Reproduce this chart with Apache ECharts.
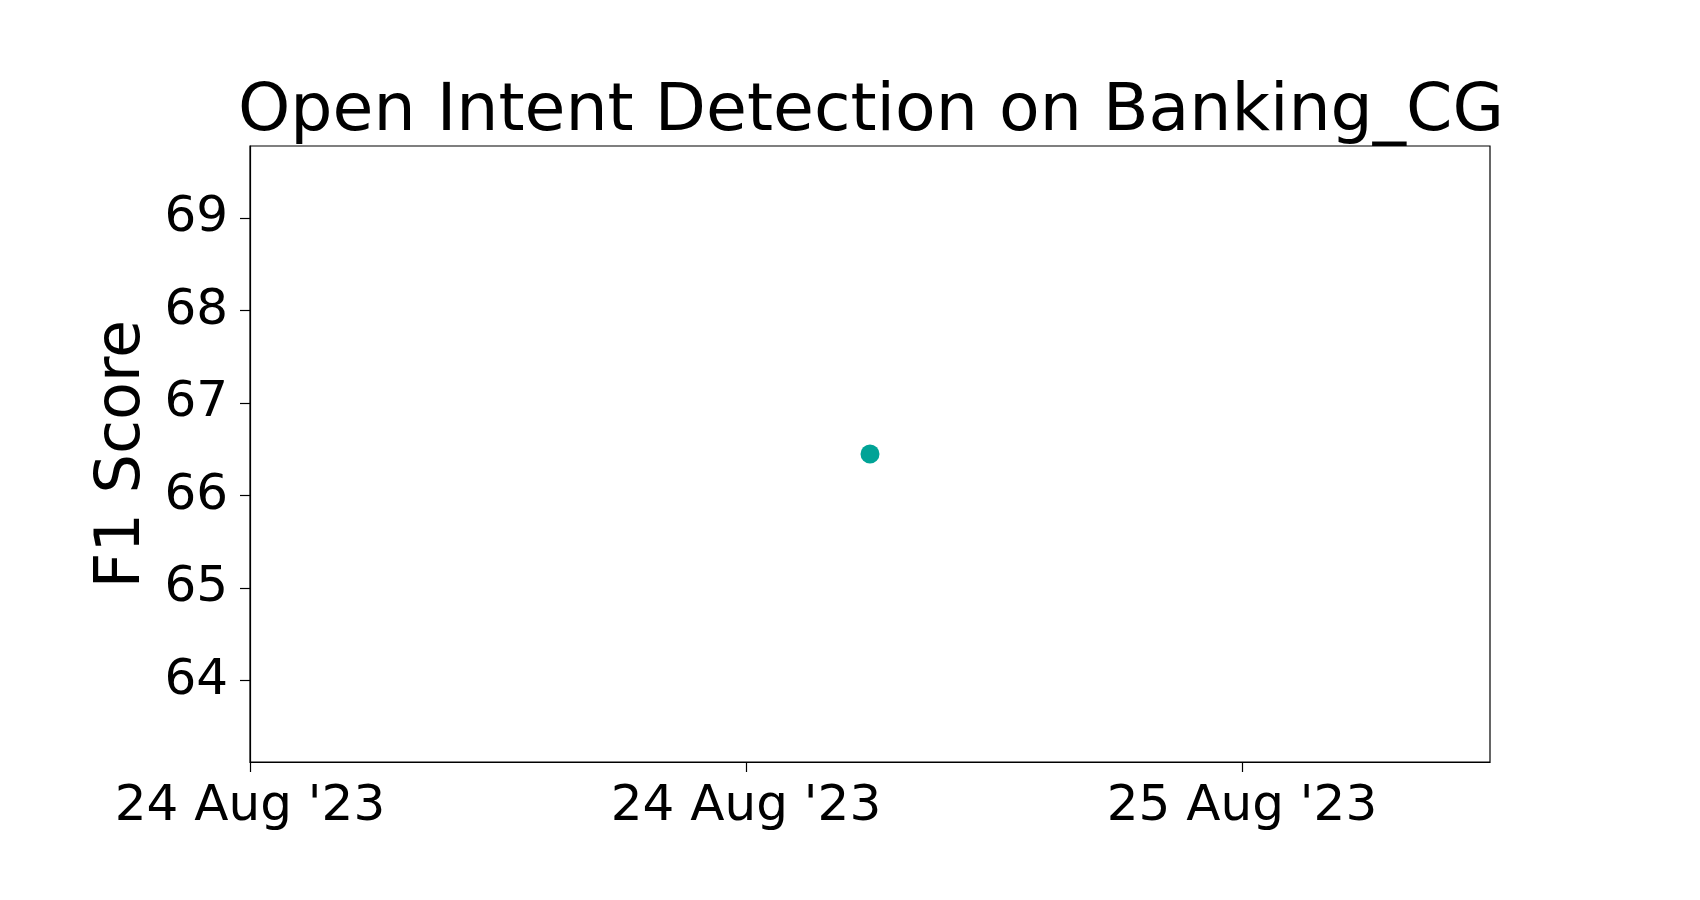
<!DOCTYPE html>
<html lang="en">
<head>
    <meta http-equiv="Content-Type" content="text/html; charset=UTF-8">
    <title>Open Intent Detection on Banking_CG</title>
    <script type="text/javascript" src="https://cdn.jsdelivr.net/npm/echarts@6/dist/echarts.min.js"></script>
    <style>
        html, body { margin: 0; padding: 0; background: #fff; }
        #main { width: 1700px; height: 900px; }
    </style>
</head>
<body>
    <div id="main"></div>

    <script type="text/javascript">
        // data
        var runDates = ['2023-08-24T15:00:00Z'];
        var f1Scores = [66.45];

        // axis ticks
        var xTickDates = ['2023-08-24T00:00:00Z', '2023-08-24T12:00:00Z', '2023-08-25T00:00:00Z'];
        var yTicks = [64, 65, 66, 67, 68, 69];

        var months = ['Jan', 'Feb', 'Mar', 'Apr', 'May', 'Jun', 'Jul', 'Aug', 'Sep', 'Oct', 'Nov', 'Dec'];
        function fmtDate(v) {
            var d = new Date(v);
            return d.getUTCDate() + ' ' + months[d.getUTCMonth()] + " '" + String(d.getUTCFullYear()).slice(2);
        }

        var points = runDates.map(function (d, i) { return [Date.parse(d), f1Scores[i]]; });
        var xTicks = xTickDates.map(function (d) { return Date.parse(d); });

        var font = 'DejaVu Sans';
        var myChart = echarts.init(document.getElementById('main'));
        myChart.setOption({
            backgroundColor: '#fff',
            animation: false,
            textStyle: { fontFamily: font },
            title: {
                text: 'Open Intent Detection on Banking_CG',
                left: 866,
                textAlign: 'center',
                top: 74,
                textStyle: { fontFamily: font, fontSize: 66.5, fontWeight: 'normal', color: '#000' }
            },
            grid: {
                left: 250, right: 210, top: 146, bottom: 138,
                show: true, borderColor: '#000', borderWidth: 1.2
            },
            xAxis: {
                type: 'value',
                min: Date.parse('2023-08-24T00:00:00Z'),
                max: Date.parse('2023-08-25T06:00:00Z'),
                splitLine: { show: false },
                axisLine: { lineStyle: { color: '#000', width: 1.2 } },
                axisTick: { customValues: xTicks, length: 10, lineStyle: { color: '#000', width: 1.2 } },
                axisLabel: {
                    customValues: xTicks,
                    formatter: fmtDate,
                    margin: 20,
                    fontFamily: font, fontSize: 50, color: '#000'
                }
            },
            yAxis: {
                type: 'value',
                min: 63.12,
                max: 69.78,
                name: 'F1 Score',
                nameLocation: 'middle',
                nameGap: 91,
                nameTextStyle: { fontFamily: font, fontSize: 62, color: '#000' },
                splitLine: { show: false },
                axisLine: { show: true, lineStyle: { color: '#000', width: 1.2 } },
                axisTick: { customValues: yTicks, length: 10, lineStyle: { color: '#000', width: 1.2 } },
                axisLabel: {
                    customValues: yTicks,
                    margin: 22,
                    fontFamily: font, fontSize: 50, color: '#000'
                }
            },
            series: [{
                name: 'F1 Score',
                type: 'scatter',
                data: points,
                symbol: 'circle',
                symbolSize: 19,
                itemStyle: { color: '#00a396', opacity: 1 }
            }]
        });
    </script>
</body>
</html>
